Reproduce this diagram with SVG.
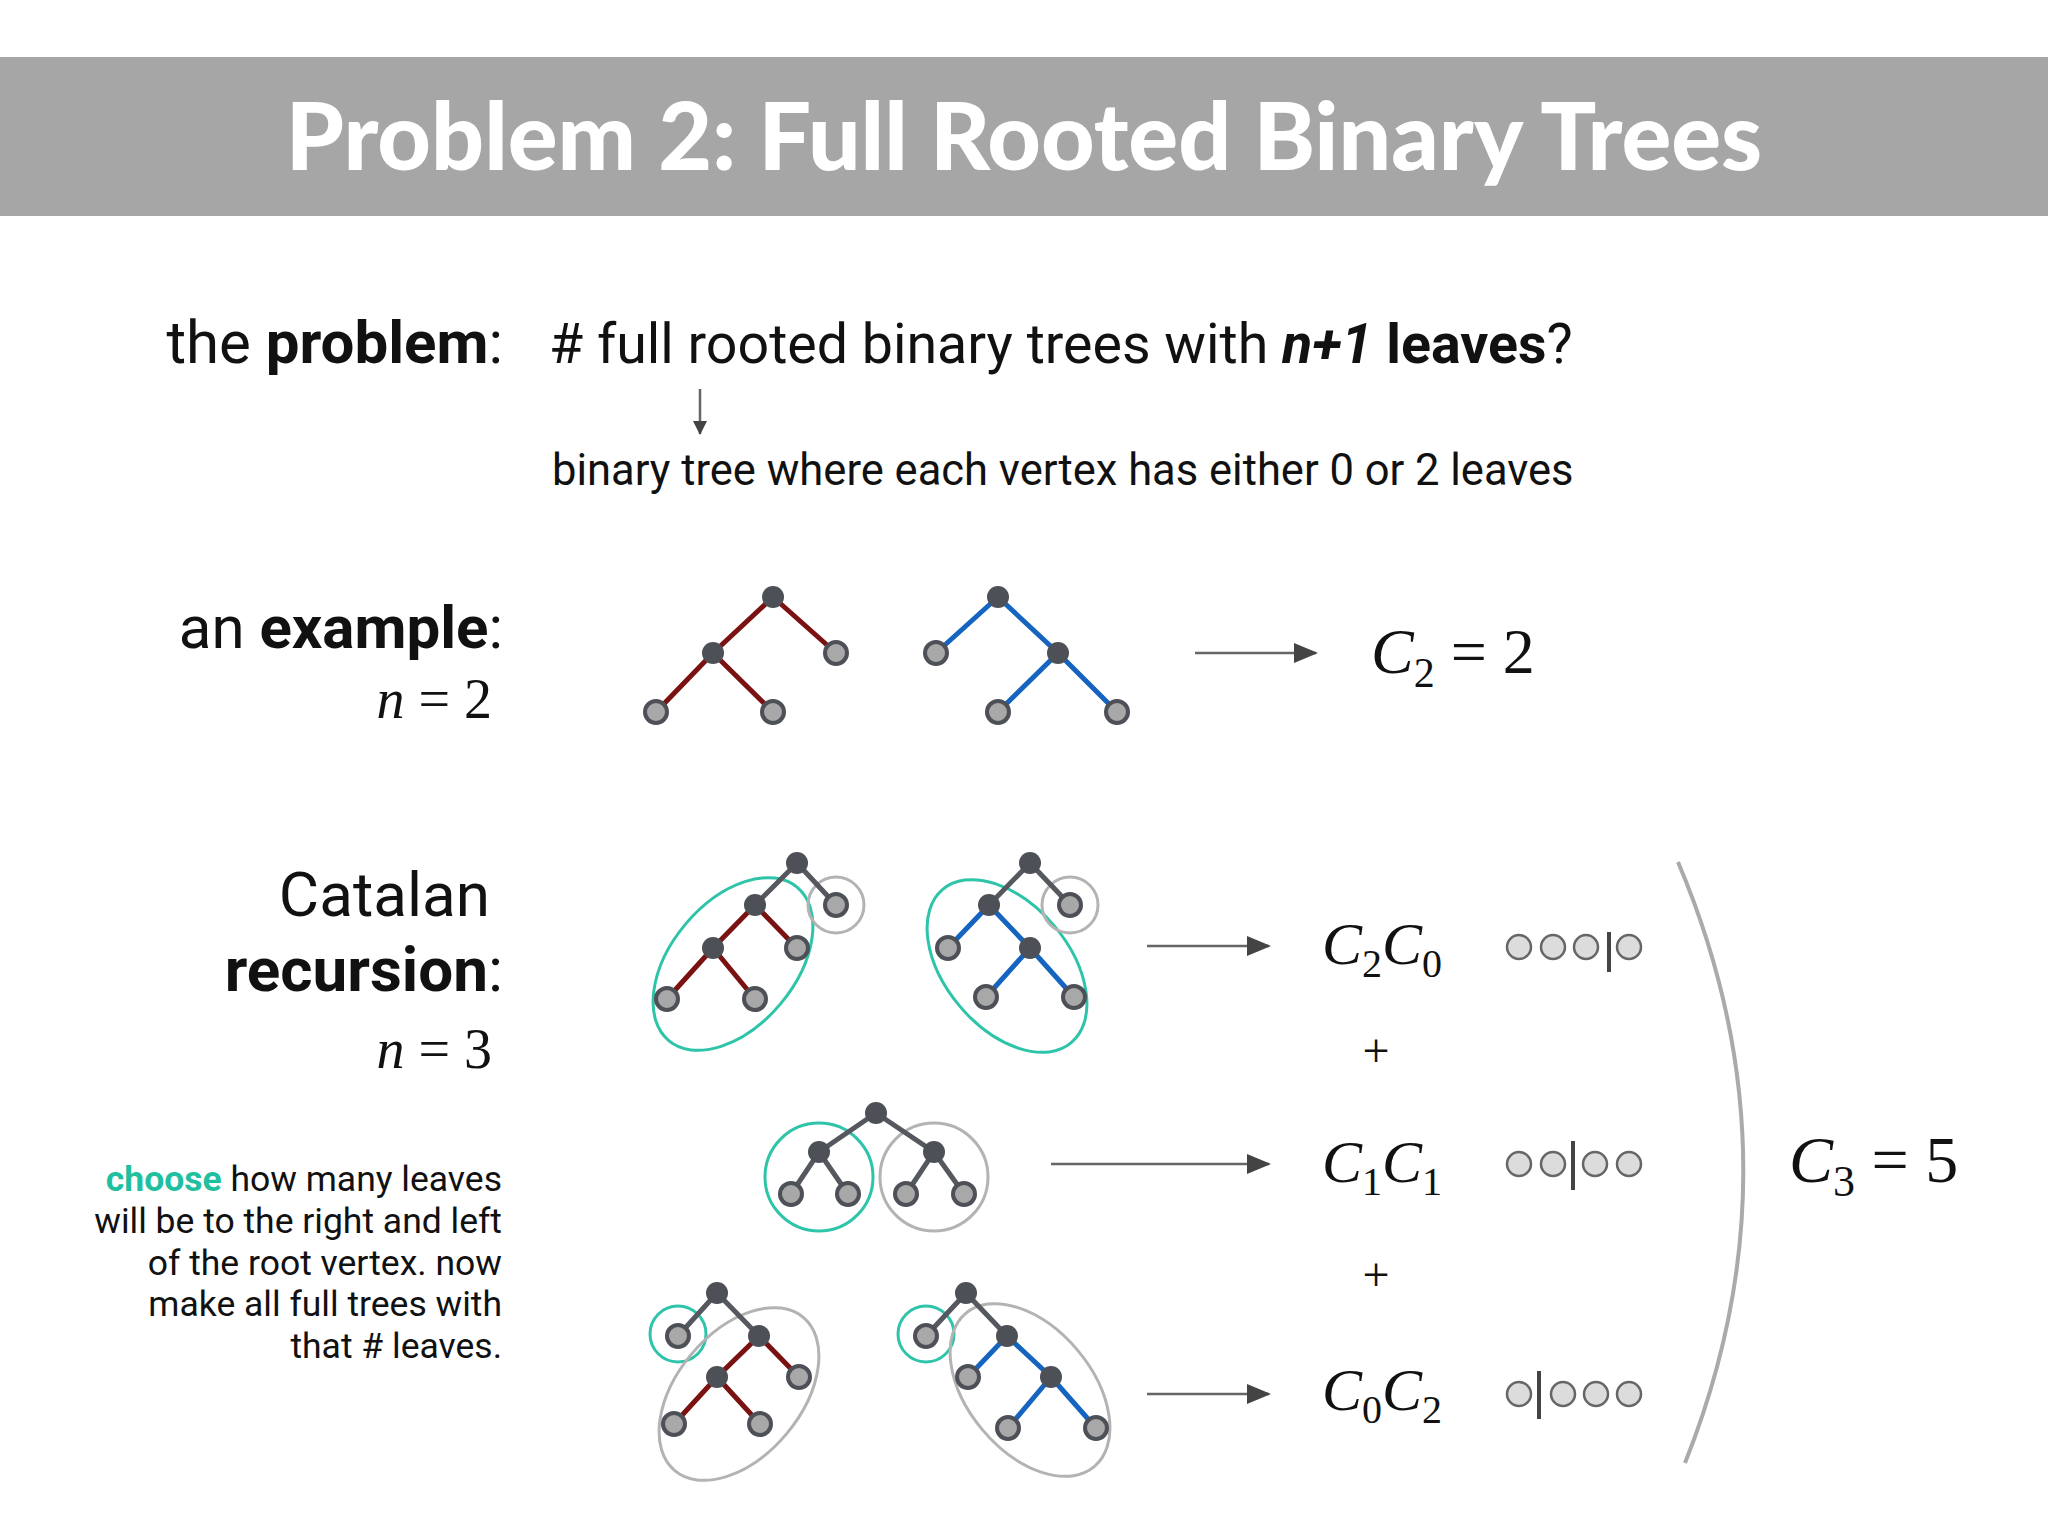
<svg xmlns="http://www.w3.org/2000/svg" width="2048" height="1536" viewBox="0 0 2048 1536">
<defs>
<style>
.t{font-family:Roboto,"Liberation Sans",sans-serif;fill:#111}
.m{font-family:"Liberation Serif","DejaVu Serif",serif;fill:#111}
.e{stroke-width:5;stroke-linecap:round;fill:none}
.g{stroke:#55585e}.r{stroke:#7a1212}.b{stroke:#1565c0}
.in{fill:#4d5057}
.lf{fill:#a8a8a8;stroke:#4d5057;stroke-width:4}
.teal{fill:none;stroke:#2ec4a9;stroke-width:3}
.gc{fill:none;stroke:#b3b3b3;stroke-width:3}
.ar{stroke:#666;stroke-width:2.5;fill:none}
.dot{fill:#dcdcdc;stroke:#666;stroke-width:2.5}
.bar{stroke:#444;stroke-width:4}
</style>
<marker id="ah" markerWidth="14" markerHeight="14" refX="13" refY="7" orient="auto" markerUnits="userSpaceOnUse" viewBox="0 0 14 14"><path d="M0,0 L14,7 L0,14 Z" fill="#444"/></marker>
<marker id="ah2" markerWidth="24" markerHeight="20" refX="22" refY="10" orient="auto" markerUnits="userSpaceOnUse" viewBox="0 0 24 20"><path d="M0,0 L24,10 L0,20 Z" fill="#444"/></marker>
</defs>
<rect width="2048" height="1536" fill="#fff"/>
<g id="header">
<rect x="0" y="57" width="2048" height="159" fill="#a6a6a6"/>
<text x="1024" y="170" text-anchor="middle" font-family="Lato,'Open Sans',sans-serif" font-weight="900" font-size="93" fill="#fff">Problem 2: Full Rooted Binary Trees</text>
</g>
<g id="labels">
<text class="t" x="503" y="363" text-anchor="end" font-size="60">the <tspan font-weight="bold">problem</tspan>:</text>
<text class="t" x="549" y="363" font-size="55.5"># full rooted binary trees with <tspan font-weight="bold" font-style="italic">n+1</tspan> <tspan font-weight="bold">leaves</tspan>?</text>
<text class="t" x="552" y="485" font-size="43.5">binary tree where each vertex has either 0 or 2 leaves</text>
<text class="t" x="503" y="648" text-anchor="end" font-size="60">an <tspan font-weight="bold">example</tspan>:</text>
<text class="m" x="492" y="718" text-anchor="end" font-size="56"><tspan font-style="italic">n</tspan>  =  2</text>
<text class="t" x="490" y="916" text-anchor="end" font-size="62">Catalan</text>
<text class="t" x="503" y="991" text-anchor="end" font-size="62"><tspan font-weight="bold">recursion</tspan>:</text>
<text class="m" x="492" y="1068" text-anchor="end" font-size="56"><tspan font-style="italic">n</tspan>  =  3</text>
<g class="t" font-size="35.5" text-anchor="end">
<text x="502" y="1191"><tspan fill="#1fbf9f" font-weight="bold">choose</tspan> how many leaves</text>
<text x="502" y="1233">will be to the right and left</text>
<text x="502" y="1275">of the root vertex. now</text>
<text x="502" y="1316">make all full trees with</text>
<text x="502" y="1358">that # leaves.</text>
</g>
</g>
<g id="connectors">
<line class="ar" x1="700" y1="389" x2="700" y2="434" marker-end="url(#ah)"/>
<line class="ar" x1="1195" y1="653" x2="1316" y2="653" marker-end="url(#ah2)"/>
<line class="ar" x1="1147" y1="946" x2="1269" y2="946" marker-end="url(#ah2)"/>
<line class="ar" x1="1051" y1="1164" x2="1269" y2="1164" marker-end="url(#ah2)"/>
<line class="ar" x1="1147" y1="1394" x2="1269" y2="1394" marker-end="url(#ah2)"/>
<path d="M1678,862 Q1805,1162 1685,1463" fill="none" stroke="#aaa" stroke-width="4"/>
</g>
<g id="example-red">
<path class="e r" d="M773,597 L713,653 L656,712 M713,653 L773,712 M773,597 L836,653"/>
<circle class="in" cx="773" cy="597" r="11"/><circle class="in" cx="713" cy="653" r="11"/>
<circle class="lf" cx="656" cy="712" r="11"/><circle class="lf" cx="773" cy="712" r="11"/><circle class="lf" cx="836" cy="653" r="11"/>
</g>
<g id="example-blue">
<path class="e b" d="M998,597 L936,653 M998,597 L1058,653 L998,712 M1058,653 L1117,712"/>
<circle class="in" cx="998" cy="597" r="11"/><circle class="in" cx="1058" cy="653" r="11"/>
<circle class="lf" cx="936" cy="653" r="11"/><circle class="lf" cx="998" cy="712" r="11"/><circle class="lf" cx="1117" cy="712" r="11"/>
</g>
<g id="c2-eq"><text class="m" x="1371" y="673" font-size="64"><tspan font-style="italic">C</tspan><tspan font-size="42" dy="14">2</tspan><tspan dy="-14">  =  2</tspan></text></g>
<g id="treeA">
<ellipse class="teal" cx="733" cy="964" rx="100" ry="62" transform="rotate(-50 733 964)"/>
<circle class="gc" cx="836" cy="905" r="28"/>
<path class="e g" d="M797,863 L755,905 M797,863 L836,905"/>
<path class="e r" d="M755,905 L713,948 L667,999 M713,948 L755,999 M755,905 L797,948"/>
<circle class="in" cx="797" cy="863" r="11"/><circle class="in" cx="755" cy="905" r="11"/><circle class="in" cx="713" cy="948" r="11"/>
<circle class="lf" cx="836" cy="905" r="11"/><circle class="lf" cx="797" cy="948" r="11"/><circle class="lf" cx="667" cy="999" r="11"/><circle class="lf" cx="755" cy="999" r="11"/>
</g>
<g id="treeB">
<ellipse class="teal" cx="1007" cy="966" rx="100" ry="62" transform="rotate(50 1007 966)"/>
<circle class="gc" cx="1070" cy="905" r="28"/>
<path class="e g" d="M1030,863 L989,905 M1030,863 L1070,905"/>
<path class="e b" d="M989,905 L948,948 M989,905 L1030,948 L986,997 M1030,948 L1074,997"/>
<circle class="in" cx="1030" cy="863" r="11"/><circle class="in" cx="989" cy="905" r="11"/><circle class="in" cx="1030" cy="948" r="11"/>
<circle class="lf" cx="1070" cy="905" r="11"/><circle class="lf" cx="948" cy="948" r="11"/><circle class="lf" cx="986" cy="997" r="11"/><circle class="lf" cx="1074" cy="997" r="11"/>
</g>
<g id="treeC">
<circle class="teal" cx="819" cy="1177" r="54"/>
<circle class="gc" cx="934" cy="1177" r="54"/>
<path class="e g" d="M876,1113 L819,1152 L791,1194 M819,1152 L848,1194 M876,1113 L934,1152 L906,1194 M934,1152 L964,1194"/>
<circle class="in" cx="876" cy="1113" r="11"/><circle class="in" cx="819" cy="1152" r="11"/><circle class="in" cx="934" cy="1152" r="11"/>
<circle class="lf" cx="791" cy="1194" r="11"/><circle class="lf" cx="848" cy="1194" r="11"/><circle class="lf" cx="906" cy="1194" r="11"/><circle class="lf" cx="964" cy="1194" r="11"/>
</g>
<g id="treeD">
<circle class="teal" cx="678" cy="1334" r="28"/>
<ellipse class="gc" cx="739" cy="1394" rx="100" ry="62" transform="rotate(-50 739 1394)"/>
<path class="e g" d="M717,1293 L678,1336 M717,1293 L759,1336"/>
<path class="e r" d="M759,1336 L717,1377 L674,1424 M717,1377 L760,1424 M759,1336 L799,1377"/>
<circle class="in" cx="717" cy="1293" r="11"/><circle class="in" cx="759" cy="1336" r="11"/><circle class="in" cx="717" cy="1377" r="11"/>
<circle class="lf" cx="678" cy="1336" r="11"/><circle class="lf" cx="799" cy="1377" r="11"/><circle class="lf" cx="674" cy="1424" r="11"/><circle class="lf" cx="760" cy="1424" r="11"/>
</g>
<g id="treeE">
<circle class="teal" cx="926" cy="1334" r="28"/>
<ellipse class="gc" cx="1030" cy="1390" rx="100" ry="62" transform="rotate(50 1030 1390)"/>
<path class="e g" d="M966,1293 L926,1336 M966,1293 L1007,1336"/>
<path class="e b" d="M1007,1336 L968,1377 M1007,1336 L1051,1377 L1008,1428 M1051,1377 L1096,1428"/>
<circle class="in" cx="966" cy="1293" r="11"/><circle class="in" cx="1007" cy="1336" r="11"/><circle class="in" cx="1051" cy="1377" r="11"/>
<circle class="lf" cx="926" cy="1336" r="11"/><circle class="lf" cx="968" cy="1377" r="11"/><circle class="lf" cx="1008" cy="1428" r="11"/><circle class="lf" cx="1096" cy="1428" r="11"/>
</g>
<g id="sums">
<text class="m" x="1322" y="964" font-size="60"><tspan font-style="italic">C</tspan><tspan font-size="40" dy="13">2</tspan><tspan font-style="italic" dy="-13">C</tspan><tspan font-size="40" dy="13">0</tspan></text>
<text class="m" x="1376" y="1067" font-size="48" text-anchor="middle">+</text>
<text class="m" x="1322" y="1182" font-size="60"><tspan font-style="italic">C</tspan><tspan font-size="40" dy="13">1</tspan><tspan font-style="italic" dy="-13">C</tspan><tspan font-size="40" dy="13">1</tspan></text>
<text class="m" x="1376" y="1291" font-size="48" text-anchor="middle">+</text>
<text class="m" x="1322" y="1410" font-size="60"><tspan font-style="italic">C</tspan><tspan font-size="40" dy="13">0</tspan><tspan font-style="italic" dy="-13">C</tspan><tspan font-size="40" dy="13">2</tspan></text>
<text class="m" x="1789" y="1182" font-size="66"><tspan font-style="italic">C</tspan><tspan font-size="44" dy="14">3</tspan><tspan dy="-14">  =  5</tspan></text>
</g>
<g id="dots">
<circle class="dot" cx="1519" cy="947" r="12"/><circle class="dot" cx="1553" cy="947" r="12"/><circle class="dot" cx="1586" cy="947" r="12"/><line class="bar" x1="1609" y1="932" x2="1609" y2="972"/><circle class="dot" cx="1629" cy="947" r="12"/>
<circle class="dot" cx="1519" cy="1164" r="12"/><circle class="dot" cx="1553" cy="1164" r="12"/><line class="bar" x1="1573" y1="1141" x2="1573" y2="1190"/><circle class="dot" cx="1595" cy="1164" r="12"/><circle class="dot" cx="1629" cy="1164" r="12"/>
<circle class="dot" cx="1519" cy="1394" r="12"/><line class="bar" x1="1539" y1="1371" x2="1539" y2="1419"/><circle class="dot" cx="1563" cy="1394" r="12"/><circle class="dot" cx="1596" cy="1394" r="12"/><circle class="dot" cx="1629" cy="1394" r="12"/>
</g>
</svg>
